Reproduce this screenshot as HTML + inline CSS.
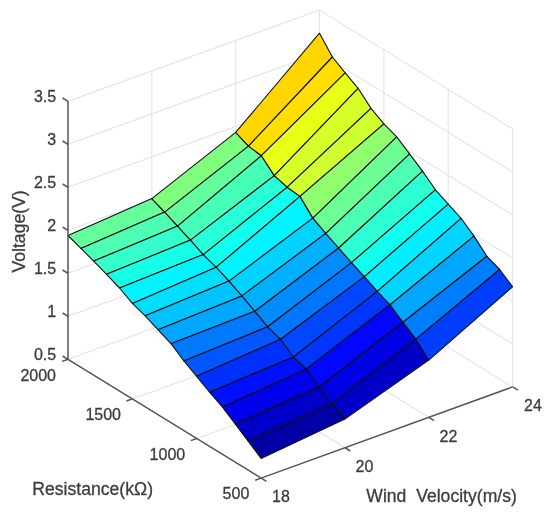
<!DOCTYPE html>
<html><head><meta charset="utf-8"><title>Voltage surface</title>
<style>
html,body{margin:0;padding:0;background:#fff;}
svg{display:block;}
.g{stroke:#e3e3e3;stroke-width:1.1;fill:none;}
.a{stroke:#555;stroke-width:1.5;fill:none;stroke-linecap:butt;}
.s polygon{stroke:#111;stroke-width:1.1;stroke-linejoin:round;}
text{font-family:"Liberation Sans",sans-serif;font-size:16px;fill:#3d3d3d;stroke:#3d3d3d;stroke-width:0.3px;}
.L{font-size:17.6px;white-space:pre;}
</style></head><body>
<svg width="550" height="515" viewBox="0 0 550 515">
<rect width="550" height="515" fill="#fff"/>
<g><line x1="151.8" y1="328.9" x2="151.8" y2="70.9" class="g"/>
<line x1="235.7" y1="298.5" x2="235.7" y2="40.5" class="g"/>
<line x1="319.5" y1="268.1" x2="319.5" y2="10.1" class="g"/>
<line x1="68.0" y1="359.3" x2="319.5" y2="268.1" class="g"/>
<line x1="319.5" y1="268.1" x2="512.6" y2="386.9" class="g"/>
<line x1="68.0" y1="316.3" x2="319.5" y2="225.1" class="g"/>
<line x1="319.5" y1="225.1" x2="512.6" y2="343.9" class="g"/>
<line x1="68.0" y1="273.3" x2="319.5" y2="182.1" class="g"/>
<line x1="319.5" y1="182.1" x2="512.6" y2="300.9" class="g"/>
<line x1="68.0" y1="230.3" x2="319.5" y2="139.1" class="g"/>
<line x1="319.5" y1="139.1" x2="512.6" y2="257.9" class="g"/>
<line x1="68.0" y1="187.3" x2="319.5" y2="96.1" class="g"/>
<line x1="319.5" y1="96.1" x2="512.6" y2="214.9" class="g"/>
<line x1="68.0" y1="144.3" x2="319.5" y2="53.1" class="g"/>
<line x1="319.5" y1="53.1" x2="512.6" y2="171.9" class="g"/>
<line x1="68.0" y1="101.3" x2="319.5" y2="10.1" class="g"/>
<line x1="319.5" y1="10.1" x2="512.6" y2="128.9" class="g"/>
<line x1="383.9" y1="307.7" x2="383.9" y2="49.7" class="g"/>
<line x1="448.2" y1="347.3" x2="448.2" y2="89.3" class="g"/>
<line x1="512.6" y1="386.9" x2="512.6" y2="128.9" class="g"/>
<line x1="151.8" y1="328.9" x2="344.9" y2="447.7" class="g"/>
<line x1="235.7" y1="298.5" x2="428.8" y2="417.3" class="g"/>
<line x1="132.4" y1="398.9" x2="383.9" y2="307.7" class="g"/>
<line x1="196.7" y1="438.5" x2="448.2" y2="347.3" class="g"/></g>
<g class="s"><polygon points="68.0,235.5 151.8,198.6 164.7,212.1 80.9,248.4" fill="rgb(100,255,155)"/>
<polygon points="80.9,248.4 164.7,212.1 177.6,226.1 93.7,261.1" fill="rgb(77,255,178)"/>
<polygon points="93.7,261.1 177.6,226.1 190.5,240.1 106.6,274.3" fill="rgb(52,255,203)"/>
<polygon points="106.6,274.3 190.5,240.1 203.3,254.6 119.5,288.0" fill="rgb(24,255,231)"/>
<polygon points="119.5,288.0 203.3,254.6 216.2,267.2 132.4,303.4" fill="rgb(0,244,255)"/>
<polygon points="132.4,303.4 216.2,267.2 229.1,281.1 145.2,315.8" fill="rgb(0,223,255)"/>
<polygon points="145.2,315.8 229.1,281.1 241.9,295.9 158.1,329.8" fill="rgb(0,194,255)"/>
<polygon points="158.1,329.8 241.9,295.9 254.8,311.2 171.0,343.7" fill="rgb(0,166,255)"/>
<polygon points="171.0,343.7 254.8,311.2 267.7,326.8 183.9,361.0" fill="rgb(0,121,255)"/>
<polygon points="183.9,361.0 267.7,326.8 280.6,339.3 196.7,376.3" fill="rgb(0,86,255)"/>
<polygon points="196.7,376.3 280.6,339.3 293.4,357.0 209.6,392.2" fill="rgb(0,48,255)"/>
<polygon points="209.6,392.2 293.4,357.0 306.3,369.0 222.5,407.1" fill="rgb(0,15,255)"/>
<polygon points="222.5,407.1 306.3,369.0 319.2,387.0 235.4,424.2" fill="rgb(0,0,235)"/>
<polygon points="235.4,424.2 319.2,387.0 332.1,403.6 248.2,441.2" fill="rgb(0,0,200)"/>
<polygon points="248.2,441.2 332.1,403.6 344.9,419.1 261.1,458.4" fill="rgb(0,0,164)"/>
<polygon points="151.8,198.6 235.7,132.4 248.5,146.1 164.7,212.1" fill="rgb(128,255,127)"/>
<polygon points="164.7,212.1 248.5,146.1 261.4,155.7 177.6,226.1" fill="rgb(99,255,156)"/>
<polygon points="177.6,226.1 261.4,155.7 274.3,175.6 190.5,240.1" fill="rgb(70,255,185)"/>
<polygon points="190.5,240.1 274.3,175.6 287.2,187.2 203.3,254.6" fill="rgb(39,255,216)"/>
<polygon points="203.3,254.6 287.2,187.2 300.0,196.4 216.2,267.2" fill="rgb(17,255,238)"/>
<polygon points="216.2,267.2 300.0,196.4 312.9,218.1 229.1,281.1" fill="rgb(0,243,255)"/>
<polygon points="229.1,281.1 312.9,218.1 325.8,233.4 241.9,295.9" fill="rgb(0,211,255)"/>
<polygon points="241.9,295.9 325.8,233.4 338.7,248.0 254.8,311.2" fill="rgb(0,176,255)"/>
<polygon points="254.8,311.2 338.7,248.0 351.5,262.6 267.7,326.8" fill="rgb(0,139,255)"/>
<polygon points="267.7,326.8 351.5,262.6 364.4,276.6 280.6,339.3" fill="rgb(0,117,255)"/>
<polygon points="280.6,339.3 364.4,276.6 377.3,291.4 293.4,357.0" fill="rgb(0,71,255)"/>
<polygon points="293.4,357.0 377.3,291.4 390.1,304.8 306.3,369.0" fill="rgb(0,52,255)"/>
<polygon points="306.3,369.0 390.1,304.8 403.0,322.3 319.2,387.0" fill="rgb(0,6,255)"/>
<polygon points="319.2,387.0 403.0,322.3 415.9,339.2 332.1,403.6" fill="rgb(0,0,228)"/>
<polygon points="332.1,403.6 415.9,339.2 428.8,360.1 344.9,419.1" fill="rgb(0,0,199)"/>
<polygon points="235.7,132.4 319.5,33.2 332.4,57.0 248.5,146.1" fill="rgb(255,214,0)"/>
<polygon points="248.5,146.1 332.4,57.0 345.2,72.8 261.4,155.7" fill="rgb(255,222,0)"/>
<polygon points="261.4,155.7 345.2,72.8 358.1,88.3 274.3,175.6" fill="rgb(232,255,23)"/>
<polygon points="274.3,175.6 358.1,88.3 371.0,108.4 287.2,187.2" fill="rgb(214,255,41)"/>
<polygon points="287.2,187.2 371.0,108.4 383.9,123.9 300.0,196.4" fill="rgb(208,255,47)"/>
<polygon points="300.0,196.4 383.9,123.9 396.7,136.8 312.9,218.1" fill="rgb(143,255,112)"/>
<polygon points="312.9,218.1 396.7,136.8 409.6,153.8 325.8,233.4" fill="rgb(108,255,147)"/>
<polygon points="325.8,233.4 409.6,153.8 422.5,171.1 338.7,248.0" fill="rgb(76,255,179)"/>
<polygon points="338.7,248.0 422.5,171.1 435.4,189.8 351.5,262.6" fill="rgb(44,255,211)"/>
<polygon points="351.5,262.6 435.4,189.8 448.2,204.1 364.4,276.6" fill="rgb(16,255,239)"/>
<polygon points="364.4,276.6 448.2,204.1 461.1,218.3 377.3,291.4" fill="rgb(0,238,255)"/>
<polygon points="377.3,291.4 461.1,218.3 474.0,236.1 390.1,304.8" fill="rgb(0,212,255)"/>
<polygon points="390.1,304.8 474.0,236.1 486.9,256.3 403.0,322.3" fill="rgb(0,167,255)"/>
<polygon points="403.0,322.3 486.9,256.3 499.7,269.5 415.9,339.2" fill="rgb(0,124,255)"/>
<polygon points="415.9,339.2 499.7,269.5 512.6,286.8 428.8,360.1" fill="rgb(0,62,255)"/></g>
<g><line x1="68.0" y1="359.3" x2="68.0" y2="101.3" class="a"/>
<line x1="68.0" y1="359.3" x2="261.1" y2="478.1" class="a"/>
<line x1="261.1" y1="478.1" x2="512.6" y2="386.9" class="a"/>
<line x1="68.0" y1="359.3" x2="62.6" y2="356.0" class="a"/>
<line x1="68.0" y1="316.3" x2="62.6" y2="313.0" class="a"/>
<line x1="68.0" y1="273.3" x2="62.6" y2="270.0" class="a"/>
<line x1="68.0" y1="230.3" x2="62.6" y2="227.0" class="a"/>
<line x1="68.0" y1="187.3" x2="62.6" y2="184.0" class="a"/>
<line x1="68.0" y1="144.3" x2="62.6" y2="141.0" class="a"/>
<line x1="68.0" y1="101.3" x2="62.6" y2="98.0" class="a"/>
<line x1="68.0" y1="359.3" x2="62.1" y2="361.4" class="a"/>
<line x1="132.4" y1="398.9" x2="126.4" y2="401.0" class="a"/>
<line x1="196.7" y1="438.5" x2="190.8" y2="440.6" class="a"/>
<line x1="261.1" y1="478.1" x2="255.2" y2="480.2" class="a"/>
<line x1="261.1" y1="478.1" x2="266.5" y2="481.4" class="a"/>
<line x1="344.9" y1="447.7" x2="350.3" y2="451.0" class="a"/>
<line x1="428.8" y1="417.3" x2="434.1" y2="420.6" class="a"/>
<line x1="512.6" y1="386.9" x2="518.0" y2="390.2" class="a"/></g>
<g><text x="56.2" y="101.8" text-anchor="end" >3.5</text>
<text x="56.2" y="145.2" text-anchor="end" >3</text>
<text x="56.2" y="188.3" text-anchor="end" >2.5</text>
<text x="56.2" y="231.2" text-anchor="end" >2</text>
<text x="56.2" y="274.2" text-anchor="end" >1.5</text>
<text x="56.2" y="317.2" text-anchor="end" >1</text>
<text x="56.2" y="360.2" text-anchor="end" >0.5</text>
<text x="56.0" y="380.6" text-anchor="end" >2000</text>
<text x="121.0" y="419.9" text-anchor="end" >1500</text>
<text x="185.2" y="459.6" text-anchor="end" >1000</text>
<text x="249.3" y="498.8" text-anchor="end" >500</text>
<text x="272.0" y="502.0" text-anchor="start" >18</text>
<text x="355.5" y="471.7" text-anchor="start" >20</text>
<text x="439.6" y="441.7" text-anchor="start" >22</text>
<text x="524.0" y="411.3" text-anchor="start" >24</text>
<text x="32.3" y="495.1" text-anchor="start" class="L">Resistance(kΩ)</text>
<text x="366.3" y="501.8" text-anchor="start" class="L" xml:space="preserve">Wind  Velocity(m/s)</text>
<text x="0.0" y="0.0" text-anchor="start" class="L" transform="translate(25.2,272.5) rotate(-90)">Voltage(V)</text></g>
</svg>
</body></html>
